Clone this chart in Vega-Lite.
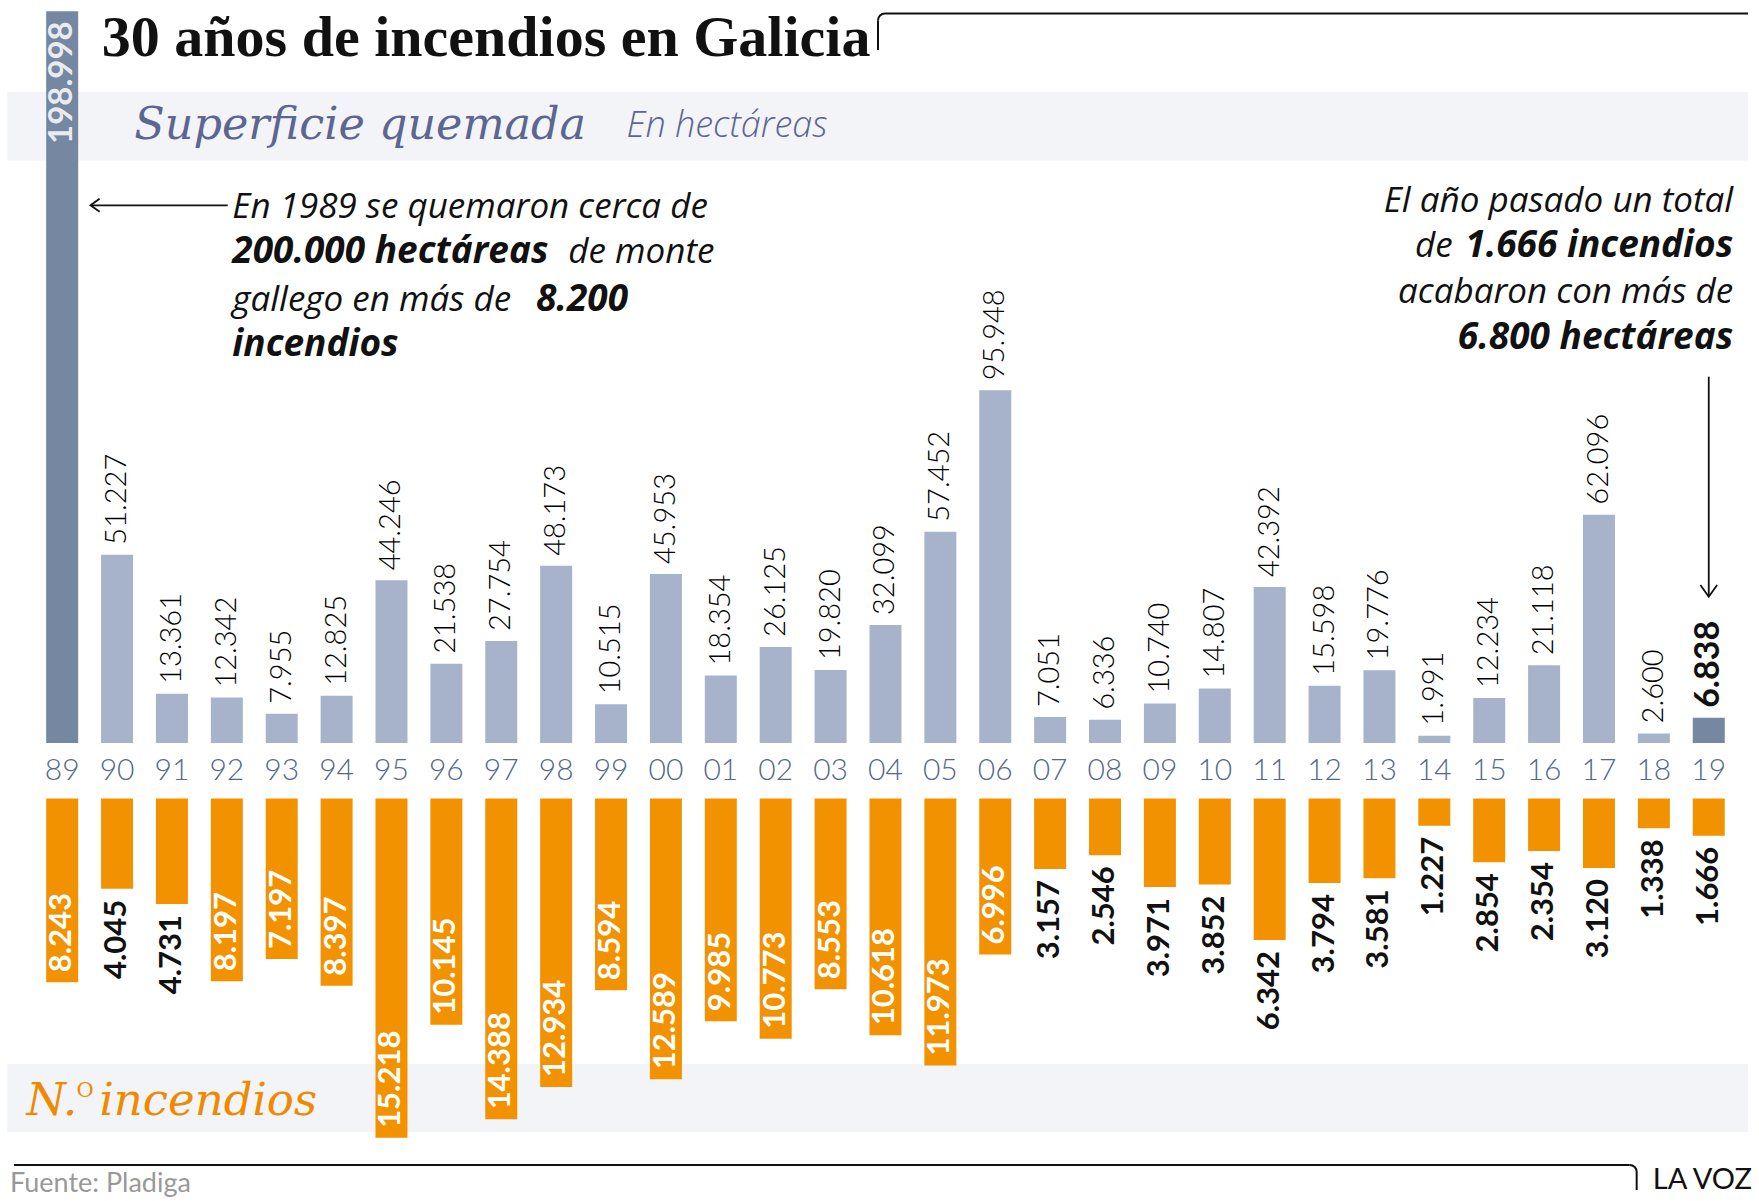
{
  "$schema": "https://vega.github.io/schema/vega-lite/v6.json",
  "width": 1759,
  "height": 1201,
  "autosize": {"type": "fit", "contains": "padding"},
  "padding": 0,
  "background": "white",
  "config": {
    "view": {"stroke": null},
    "axis": {"disable": true},
    "locale": {"number": {"decimal": ",", "thousands": ".", "grouping": [3], "currency": ["", "€"]}}
  },
  "datasets": {
    "fires": [
      {"year": 1989, "yr": "89", "ha": 198998, "n": 8243},
      {"year": 1990, "yr": "90", "ha": 51227, "n": 4045},
      {"year": 1991, "yr": "91", "ha": 13361, "n": 4731},
      {"year": 1992, "yr": "92", "ha": 12342, "n": 8197},
      {"year": 1993, "yr": "93", "ha": 7955, "n": 7197},
      {"year": 1994, "yr": "94", "ha": 12825, "n": 8397},
      {"year": 1995, "yr": "95", "ha": 44246, "n": 15218},
      {"year": 1996, "yr": "96", "ha": 21538, "n": 10145},
      {"year": 1997, "yr": "97", "ha": 27754, "n": 14388},
      {"year": 1998, "yr": "98", "ha": 48173, "n": 12934},
      {"year": 1999, "yr": "99", "ha": 10515, "n": 8594},
      {"year": 2000, "yr": "00", "ha": 45953, "n": 12589},
      {"year": 2001, "yr": "01", "ha": 18354, "n": 9985},
      {"year": 2002, "yr": "02", "ha": 26125, "n": 10773},
      {"year": 2003, "yr": "03", "ha": 19820, "n": 8553},
      {"year": 2004, "yr": "04", "ha": 32099, "n": 10618},
      {"year": 2005, "yr": "05", "ha": 57452, "n": 11973},
      {"year": 2006, "yr": "06", "ha": 95948, "n": 6996},
      {"year": 2007, "yr": "07", "ha": 7051, "n": 3157},
      {"year": 2008, "yr": "08", "ha": 6336, "n": 2546},
      {"year": 2009, "yr": "09", "ha": 10740, "n": 3971},
      {"year": 2010, "yr": "10", "ha": 14807, "n": 3852},
      {"year": 2011, "yr": "11", "ha": 42392, "n": 6342},
      {"year": 2012, "yr": "12", "ha": 15598, "n": 3794},
      {"year": 2013, "yr": "13", "ha": 19776, "n": 3581},
      {"year": 2014, "yr": "14", "ha": 1991, "n": 1227},
      {"year": 2015, "yr": "15", "ha": 12234, "n": 2854},
      {"year": 2016, "yr": "16", "ha": 21118, "n": 2354},
      {"year": 2017, "yr": "17", "ha": 62096, "n": 3120},
      {"year": 2018, "yr": "18", "ha": 2600, "n": 1338},
      {"year": 2019, "yr": "19", "ha": 6838, "n": 1666}
    ]
  },
  "data": {"name": "fires"},
  "resolve": {"scale": {"y": "independent"}},
  "layer": [
    {
      "layer": [
        {"data": {"values": [{}]}, "mark": {"type": "rect", "color": "#f3f4f7"},
         "encoding": {"x": {"datum": 1988.0}, "x2": {"datum": 2019.7156}, "y": {"datum": 177047}, "y2": {"datum": 158417}}},
        {"data": {"values": [{}]}, "mark": {"type": "rect", "color": "#f3f4f7"},
         "encoding": {"x": {"datum": 1988.0}, "x2": {"datum": 2019.7156}, "y": {"datum": -87300}, "y2": {"datum": -105793}}},
        {
          "mark": {"type": "bar", "width": 32},
          "encoding": {
            "x": {"field": "year", "type": "quantitative", "scale": {"domain": [1987.9583, 2019.8243], "nice": false, "zero": false}, "axis": null},
            "y": {"field": "ha", "type": "quantitative", "scale": {"domain": [-124558, 202067], "nice": false, "zero": false}, "axis": null},
            "y2": {"datum": 0},
            "color": {"condition": {"test": "datum.year == 1989 || datum.year == 2019", "value": "#7687a1"}, "value": "#a7b3cb"}
          }
        },
        {
          "transform": [{"filter": "datum.year != 1989 && datum.year != 2019"}],
          "mark": {"type": "text", "angle": 270, "align": "left", "baseline": "middle", "dx": 10, "font": "Lato", "fontWeight": 300, "fontSize": 29, "color": "#000000"},
          "encoding": {"x": {"field": "year", "type": "quantitative"}, "y": {"field": "ha", "type": "quantitative"}, "text": {"field": "ha", "type": "quantitative", "format": ",d"}}
        },
        {
          "transform": [{"filter": "datum.year == 2019"}],
          "mark": {"type": "text", "angle": 270, "align": "left", "baseline": "middle", "dx": 10, "font": "Lato", "fontWeight": "bold", "fontSize": 34, "color": "#111111"},
          "encoding": {"x": {"field": "year", "type": "quantitative"}, "y": {"field": "ha", "type": "quantitative"}, "text": {"field": "ha", "type": "quantitative", "format": ",d"}}
        },
        {
          "transform": [{"filter": "datum.year == 1989"}],
          "mark": {"type": "text", "angle": 270, "align": "right", "baseline": "middle", "dx": -10, "font": "Lato", "fontWeight": "bold", "fontSize": 33, "color": "#e8ebf1"},
          "encoding": {"x": {"field": "year", "type": "quantitative"}, "y": {"field": "ha", "type": "quantitative"}, "text": {"field": "ha", "type": "quantitative", "format": ",d"}}
        },
        {
          "mark": {"type": "text", "align": "center", "baseline": "alphabetic", "font": "Lato", "fontWeight": 300, "fontSize": 30, "color": "#55688a"},
          "encoding": {"x": {"field": "year", "type": "quantitative"}, "y": {"datum": -10063}, "text": {"field": "yr"}}
        },
        {"data": {"values": [{}]}, "mark": {"type": "text", "text": "30 años de incendios en Galicia", "align": "left", "baseline": "alphabetic", "font": "Liberation Serif", "fontWeight": "bold", "fontSize": 58, "color": "#111111"},
         "encoding": {"x": {"datum": 1989.7228}, "y": {"datum": 186837}}},
        {"data": {"values": [{}]}, "mark": {"type": "rule", "color": "#111111", "strokeWidth": 2},
         "encoding": {"x": {"datum": 2003.8641}, "y": {"datum": 188469}, "y2": {"datum": 196492}}},
        {"data": {"values": [{}]}, "mark": {"type": "arc", "radius": 7, "radius2": 7, "theta": 4.7124, "theta2": 6.2832, "filled": false, "stroke": "#111111", "strokeWidth": 2},
         "encoding": {"x": {"datum": 2003.9909}, "y": {"datum": 196492}}},
        {"data": {"values": [{}]}, "mark": {"type": "rule", "color": "#111111", "strokeWidth": 2},
         "encoding": {"x": {"datum": 2003.9909}, "x2": {"datum": 2019.7156}, "y": {"datum": 198395}}},
        {"data": {"values": [{}]}, "mark": {"type": "text", "text": "Superficie quemada", "align": "left", "baseline": "alphabetic", "font": "DejaVu Serif", "fontStyle": "italic", "fontSize": 44.5, "color": "#5c6690"},
         "encoding": {"x": {"datum": 1990.3152}, "y": {"datum": 164264}}},
        {"data": {"values": [{}]}, "mark": {"type": "text", "text": "En hectáreas", "align": "left", "baseline": "alphabetic", "font": "Open Sans", "fontStyle": "italic", "fontWeight": 300, "fontSize": 36, "color": "#5c6690"},
         "encoding": {"x": {"datum": 1999.2808}, "y": {"datum": 164808}}},
        {"data": {"values": [{}]}, "mark": {"type": "text", "text": "En 1989 se quemaron cerca de", "align": "left", "baseline": "alphabetic", "font": "Open Sans", "fontStyle": "italic", "fontSize": 35, "color": "#111111"},
         "encoding": {"x": {"datum": 1992.0996}, "y": {"datum": 142888}}},
        {"data": {"values": [{}]}, "mark": {"type": "text", "text": "200.000 hectáreas", "align": "left", "baseline": "alphabetic", "font": "Open Sans", "fontStyle": "italic", "fontWeight": "bold", "fontSize": 37, "color": "#111111"},
         "encoding": {"x": {"datum": 1992.0996}, "y": {"datum": 130541}}},
        {"data": {"values": [{}]}, "mark": {"type": "text", "text": "de monte", "align": "left", "baseline": "alphabetic", "font": "Open Sans", "fontStyle": "italic", "fontSize": 35, "color": "#111111"},
         "encoding": {"x": {"datum": 1998.221}, "y": {"datum": 130541}}},
        {"data": {"values": [{}]}, "mark": {"type": "text", "text": "gallego en más de", "align": "left", "baseline": "alphabetic", "font": "Open Sans", "fontStyle": "italic", "fontSize": 35, "color": "#111111"},
         "encoding": {"x": {"datum": 1992.0996}, "y": {"datum": 117487}}},
        {"data": {"values": [{}]}, "mark": {"type": "text", "text": "8.200", "align": "left", "baseline": "alphabetic", "font": "Open Sans", "fontStyle": "italic", "fontWeight": "bold", "fontSize": 37, "color": "#111111"},
         "encoding": {"x": {"datum": 1997.6322}, "y": {"datum": 117487}}},
        {"data": {"values": [{}]}, "mark": {"type": "text", "text": "incendios", "align": "left", "baseline": "alphabetic", "font": "Open Sans", "fontStyle": "italic", "fontWeight": "bold", "fontSize": 37, "color": "#111111"},
         "encoding": {"x": {"datum": 1992.0996}, "y": {"datum": 105249}}},
        {"data": {"values": [{}]}, "mark": {"type": "rule", "color": "#111111", "strokeWidth": 1.8},
         "encoding": {"x": {"datum": 1989.5163}, "x2": {"datum": 1992.0163}, "y": {"datum": 146234}}},
        {"data": {"values": [{}]}, "mark": {"type": "point", "shape": "M1.4,-1L0,0L1.4,1", "size": 169, "filled": false, "stroke": "#111111", "strokeWidth": 1.8, "opacity": 1},
         "encoding": {"x": {"datum": 1989.5163}, "y": {"datum": 146234}}},
        {"data": {"values": [{}]}, "mark": {"type": "text", "text": "El año pasado un total", "align": "right", "baseline": "alphabetic", "font": "Open Sans", "fontStyle": "italic", "fontSize": 35, "color": "#111111"},
         "encoding": {"x": {"datum": 2019.4457}, "y": {"datum": 144411}}},
        {"data": {"values": [{}]}, "mark": {"type": "text", "text": "de", "align": "right", "baseline": "alphabetic", "font": "Open Sans", "fontStyle": "italic", "fontSize": 35, "color": "#111111"},
         "encoding": {"x": {"datum": 2014.3351}, "y": {"datum": 132200}}},
        {"data": {"values": [{}]}, "mark": {"type": "text", "text": "1.666 incendios", "align": "right", "baseline": "alphabetic", "font": "Open Sans", "fontStyle": "italic", "fontWeight": "bold", "fontSize": 37, "color": "#111111"},
         "encoding": {"x": {"datum": 2019.4457}, "y": {"datum": 132200}}},
        {"data": {"values": [{}]}, "mark": {"type": "text", "text": "acabaron con más de", "align": "right", "baseline": "alphabetic", "font": "Open Sans", "fontStyle": "italic", "fontSize": 35, "color": "#111111"},
         "encoding": {"x": {"datum": 2019.4457}, "y": {"datum": 119690}}},
        {"data": {"values": [{}]}, "mark": {"type": "text", "text": "6.800 hectáreas", "align": "right", "baseline": "alphabetic", "font": "Open Sans", "fontStyle": "italic", "fontWeight": "bold", "fontSize": 37, "color": "#111111"},
         "encoding": {"x": {"datum": 2019.4457}, "y": {"datum": 107180}}},
        {"data": {"values": [{}]}, "mark": {"type": "rule", "color": "#111111", "strokeWidth": 1.8},
         "encoding": {"x": {"datum": 2019}, "y": {"datum": 99619}, "y2": {"datum": 39788}}},
        {"data": {"values": [{}]}, "mark": {"type": "point", "shape": "M-1,-1.4L0,0L1,-1.4", "size": 280, "filled": false, "stroke": "#111111", "strokeWidth": 1.8, "opacity": 1},
         "encoding": {"x": {"datum": 2019}, "y": {"datum": 39788}}},
        {"data": {"values": [{}]}, "mark": {"type": "text", "text": "N.", "align": "left", "baseline": "alphabetic", "font": "DejaVu Serif", "fontStyle": "italic", "fontSize": 45, "color": "#ef8a00"},
         "encoding": {"x": {"datum": 1988.3514}, "y": {"datum": -101170}}},
        {"data": {"values": [{}]}, "mark": {"type": "text", "text": "O", "align": "left", "baseline": "alphabetic", "font": "DejaVu Serif", "fontSize": 21, "color": "#ef8a00"},
         "encoding": {"x": {"datum": 1989.2627}, "y": {"datum": -96356}}},
        {"data": {"values": [{}]}, "mark": {"type": "text", "text": "incendios", "align": "left", "baseline": "alphabetic", "font": "DejaVu Serif", "fontStyle": "italic", "fontSize": 45, "color": "#ef8a00"},
         "encoding": {"x": {"datum": 1989.6793}, "y": {"datum": -101170}}},
        {"data": {"values": [{}]}, "mark": {"type": "rule", "color": "#111111", "strokeWidth": 2},
         "encoding": {"x": {"datum": 1988.1214}, "x2": {"datum": 2017.5598}, "y": {"datum": -114767}}},
        {"data": {"values": [{}]}, "mark": {"type": "arc", "radius": 7, "radius2": 7, "theta": 0, "theta2": 1.5708, "filled": false, "stroke": "#111111", "strokeWidth": 2},
         "encoding": {"x": {"datum": 2017.5598}, "y": {"datum": -116671}}},
        {"data": {"values": [{}]}, "mark": {"type": "rule", "color": "#111111", "strokeWidth": 2},
         "encoding": {"x": {"datum": 2017.6866}, "y": {"datum": -116671}, "y2": {"datum": -121566}}},
        {"data": {"values": [{}]}, "mark": {"type": "text", "text": "Fuente: Pladiga", "align": "left", "baseline": "alphabetic", "font": "Lato", "fontSize": 27, "color": "#999999"},
         "encoding": {"x": {"datum": 1988.0489}, "y": {"datum": -122110}}},
        {"data": {"values": [{}]}, "mark": {"type": "text", "text": "LA VOZ", "align": "right", "baseline": "alphabetic", "font": "Lato", "fontSize": 29, "color": "#111111"},
         "encoding": {"x": {"datum": 2019.788}, "y": {"datum": -121295}}}
      ]
    },
    {
      "layer": [
        {
          "mark": {"type": "bar", "width": 32, "color": "#f39200"},
          "encoding": {
            "x": {"field": "year", "type": "quantitative", "axis": null},
            "y": {"field": "n", "type": "quantitative", "scale": {"domain": [-35807, 18049], "reverse": true, "nice": false, "zero": false}, "axis": null},
            "y2": {"datum": 0}
          }
        },
        {
          "transform": [{"filter": "datum.n > 6500"}],
          "mark": {"type": "text", "angle": 270, "align": "left", "baseline": "middle", "dx": 10, "font": "Lato", "fontWeight": "bold", "fontSize": 31, "color": "#ffffff"},
          "encoding": {"x": {"field": "year", "type": "quantitative"}, "y": {"field": "n", "type": "quantitative"}, "text": {"field": "n", "type": "quantitative", "format": ",d"}}
        },
        {
          "transform": [{"filter": "datum.n <= 6500"}],
          "mark": {"type": "text", "angle": 270, "align": "right", "baseline": "middle", "dx": -11, "font": "Lato", "fontWeight": "bold", "fontSize": 31, "color": "#111111"},
          "encoding": {"x": {"field": "year", "type": "quantitative"}, "y": {"field": "n", "type": "quantitative"}, "text": {"field": "n", "type": "quantitative", "format": ",d"}}
        }
      ]
    }
  ]
}
